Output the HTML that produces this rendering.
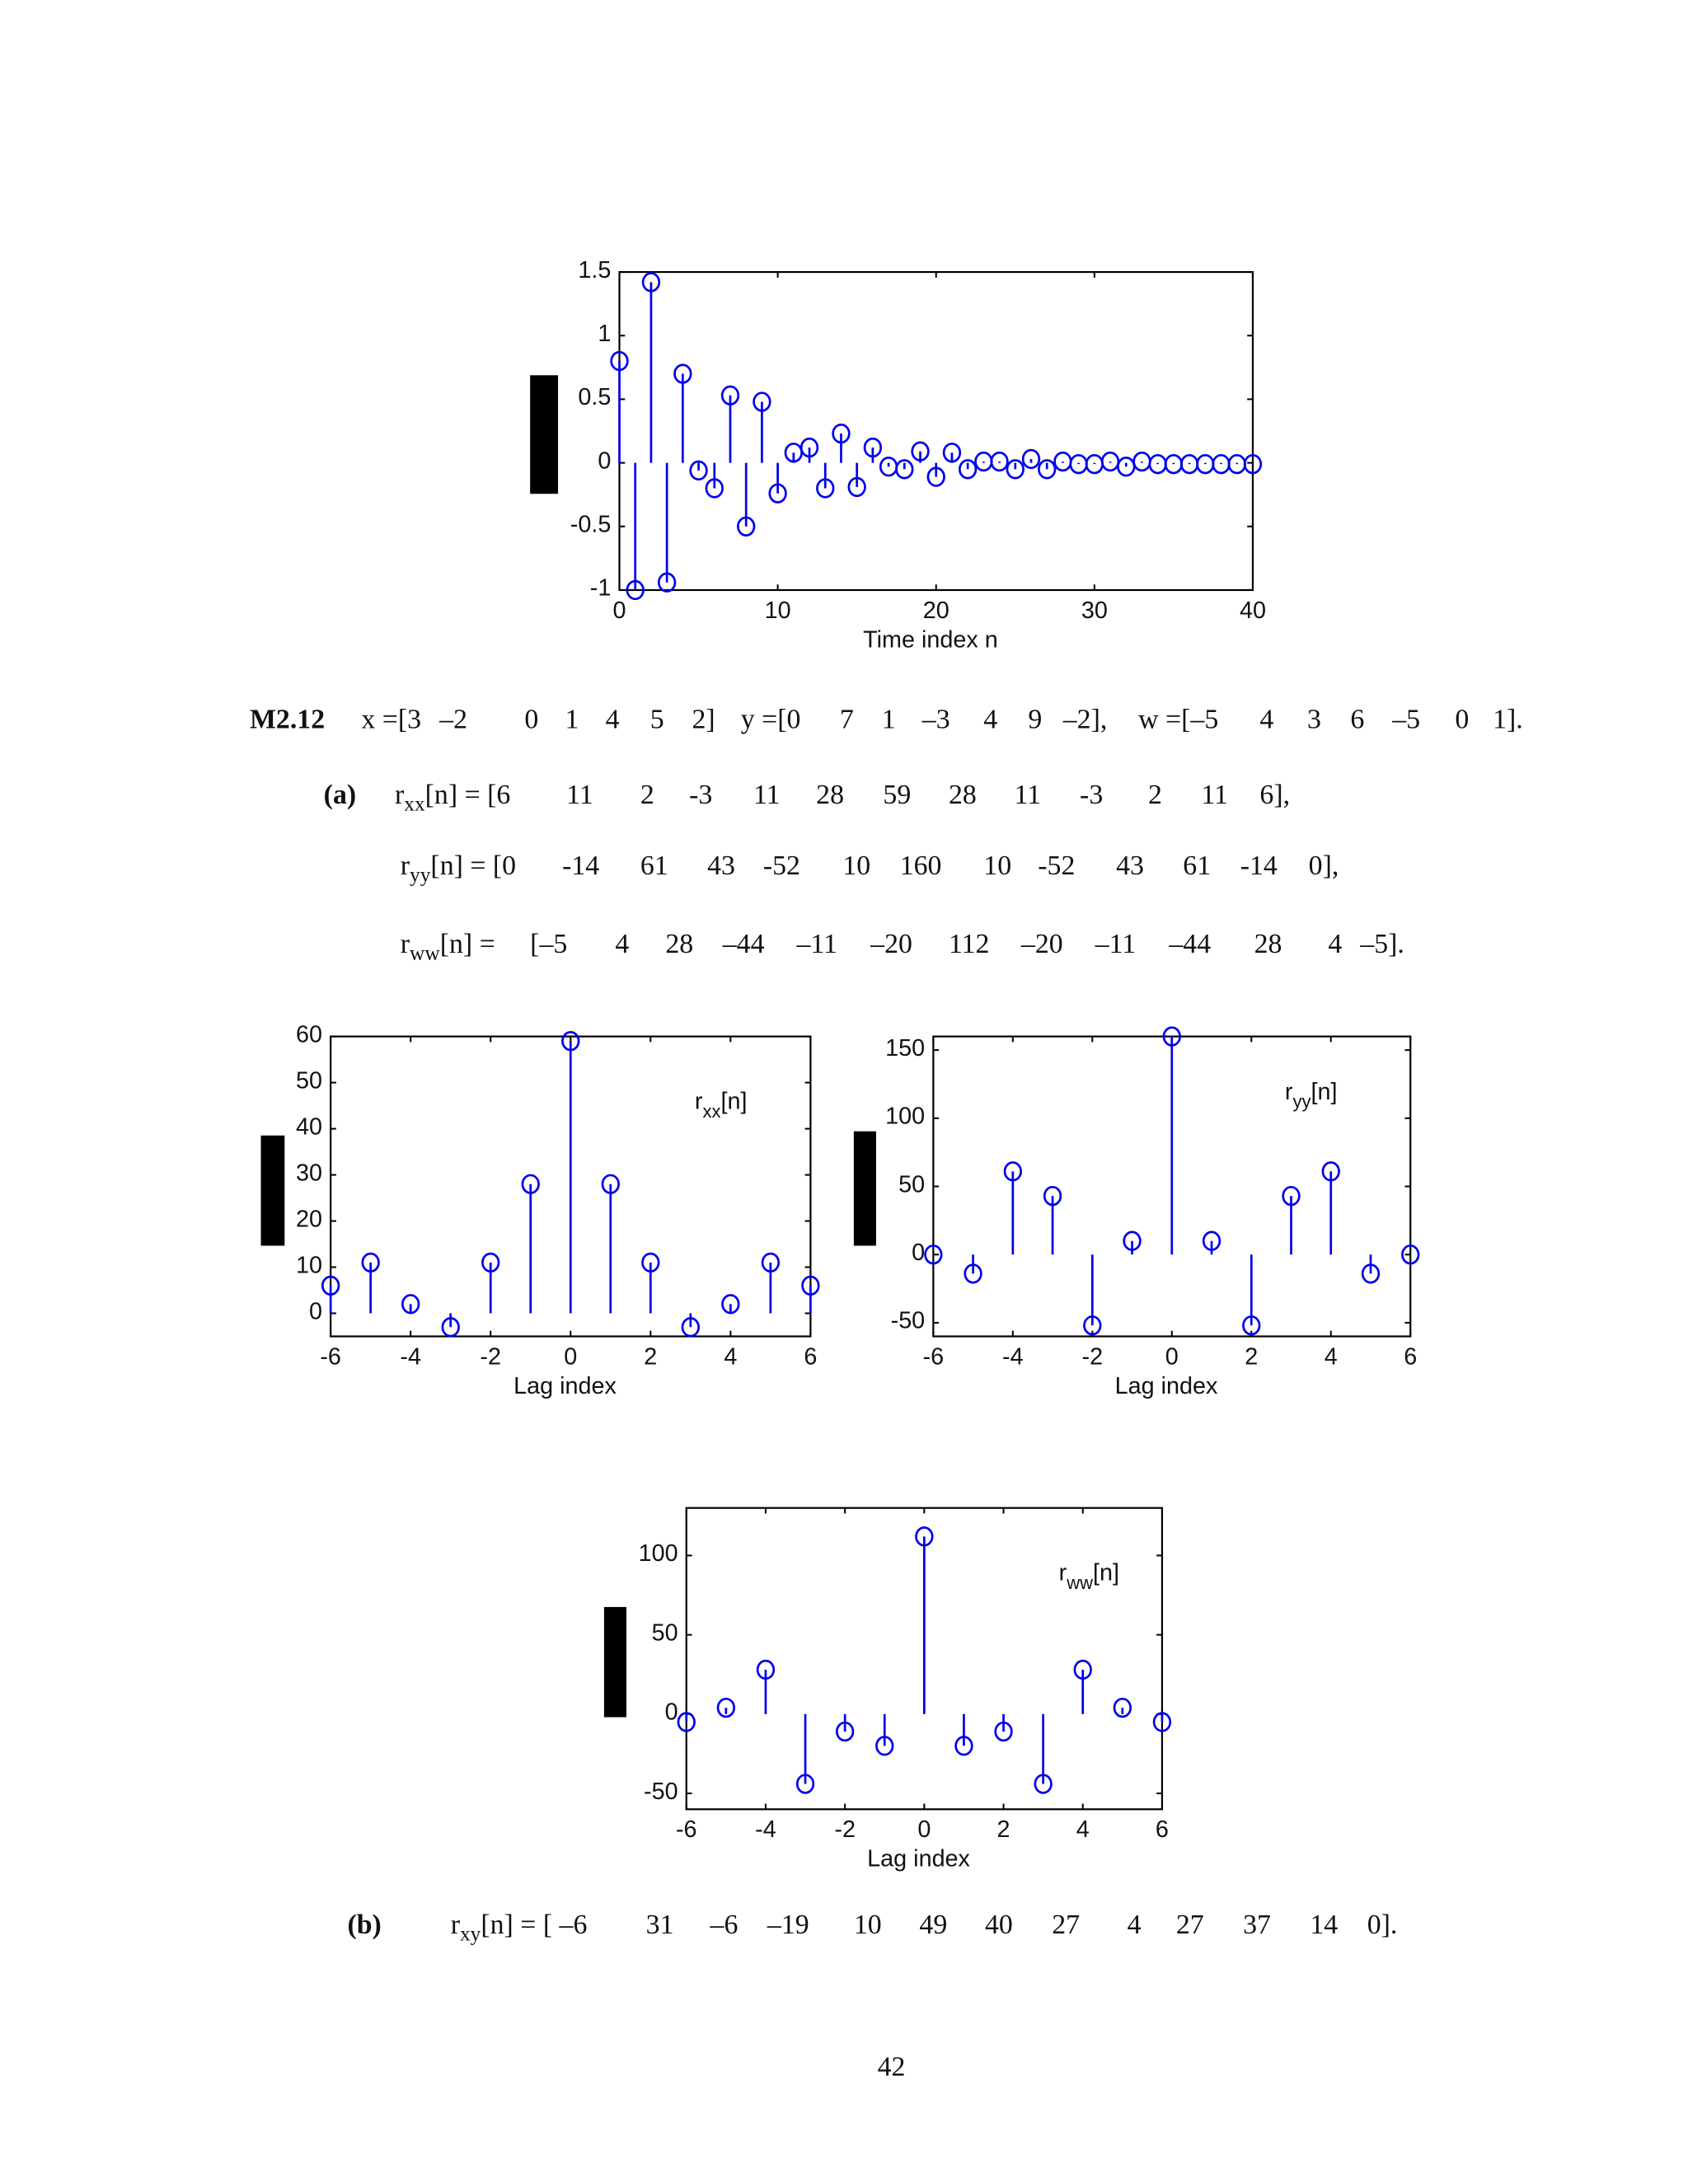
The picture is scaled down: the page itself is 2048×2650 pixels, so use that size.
<!DOCTYPE html>
<html><head><meta charset="utf-8"><style>
html,body{margin:0;padding:0;background:#fff;}
svg{display:block;}
.tx{font-family:"Liberation Serif",serif;font-size:20px;fill:#111;}
.tk{font-family:"Liberation Sans",sans-serif;font-size:17px;fill:#111;}
</style></head><body>
<svg id="root" width="2048" height="2650" viewBox="0 0 2048 2650" xmlns="http://www.w3.org/2000/svg">
<rect width="2048" height="2650" fill="#fff"/>
<g id="g" transform="scale(1.6926)"></g>
</svg>
<script>
// ---- data ----
const topN = [];
for (let i = 0; i <= 40; i++) topN.push(i);
const topVals = [0.8,-1.0,1.42,-0.94,0.7,-0.06,-0.2,0.53,-0.5,0.48,-0.24,0.08,0.12,-0.2,0.23,-0.19,0.12,-0.03,-0.05,0.09,-0.11,0.08,-0.05,0.01,0.01,-0.05,0.03,-0.05,0.01,-0.01,-0.01,0.01,-0.03,0.01,-0.01,-0.01,-0.01,-0.01,-0.01,-0.01,-0.01];
const topXTicks = [0,10,20,30,40];
const topYTicks = [-1,-0.5,0,0.5,1,1.5];
const lags = [-6,-5,-4,-3,-2,-1,0,1,2,3,4,5,6];
const rxx = [6,11,2,-3,11,28,59,28,11,-3,2,11,6];
const ryy = [0,-14,61,43,-52,10,160,10,-52,43,61,-14,0];
const rww = [-5,4,28,-44,-11,-20,112,-20,-11,-44,28,4,-5];
const lagTicks = [-6,-4,-2,0,2,4,6];
const rxxYTicks = [0,10,20,30,40,50,60];
const ryyYTicks = [-50,0,50,100,150];
const rwwYTicks = [-50,0,50,100];

const NS = 'http://www.w3.org/2000/svg';
const G = document.getElementById('g');
function el(tag, attrs, parent){const e=document.createElementNS(NS,tag);for(const k in attrs)e.setAttribute(k,attrs[k]);(parent||G).appendChild(e);return e;}

function chart(name, box, xr, yr, xs, ys, xt, yt, xlabel, ylabRect, legend){
  const g = el('g', {});
  
  
  const X = v => box.l + (v - xr[0]) / (xr[1] - xr[0]) * (box.r - box.l);
  const Y = v => box.b - (v - yr[0]) / (yr[1] - yr[0]) * (box.b - box.t);
  const fr = el('rect', {x:box.l, y:box.t, width:box.r-box.l, height:box.b-box.t, fill:'none', stroke:'#000', 'stroke-width':1.3}, g);
  
  
  xt.forEach(v => {
    const x = X(v);
    el('line', {x1:x, x2:x, y1:box.b, y2:box.b-4, stroke:'#000', 'stroke-width':1.2}, g);
    el('line', {x1:x, x2:x, y1:box.t, y2:box.t+4, stroke:'#000', 'stroke-width':1.2}, g);
    const t = el('text', {x:x, y:box.b+20, 'text-anchor':'middle', class:'tk'}, g);
    t.textContent = String(v);
    
    
  });
  yt.forEach(v => {
    const y = Y(v);
    el('line', {x1:box.l, x2:box.l+4, y1:y, y2:y, stroke:'#000', 'stroke-width':1.2}, g);
    el('line', {x1:box.r, x2:box.r-4, y1:y, y2:y, stroke:'#000', 'stroke-width':1.2}, g);
    const t = el('text', {x:box.l-6, y:y+4, 'text-anchor':'end', class:'tk'}, g);
    t.textContent = String(v);
    
    
  });
  const y0 = Y(0);
  xs.forEach((xv, i) => {
    const x = X(xv), y = Y(ys[i]);
    const s = el('line', {x1:x, x2:x, y1:y0, y2:y, stroke:'#0000ee', 'stroke-width':1.6}, g);
    
    
    const c = el('ellipse', {cx:x, cy:y, rx:5.8, ry:6.4, fill:'none', stroke:'#0000ee', 'stroke-width':1.6}, g);
    
    
  });
  const xl = el('text', {x:(box.l+box.r)/2 - 4, y:box.b+41, 'text-anchor':'middle', class:'tk'}, g);
  xl.textContent = xlabel;
  
  
  const rr = el('rect', ylabRect, g);
  rr.setAttribute('fill', '#000');
  
  
  if (legend){
    const t = el('text', {x:legend.x, y:legend.y, class:'tk'}, g);
    
    
    const a = el('tspan', {}, t); a.textContent = 'r';
    const b = el('tspan', {dy:6, 'font-size':13}, t); b.textContent = legend.sub;
    const c = el('tspan', {dy:-6}, t); c.textContent = '[n]';
  }
}

chart('impulse-response-chart', {l:444,r:898,t:195,b:423}, [0,40], [-1,1.5], topN, topVals, topXTicks, topYTicks, 'Time index  n', {x:380,y:269,width:20,height:85}, null);
chart('rxx-chart', {l:237,r:581,t:743,b:958}, [-6,6], [-5,60], lags, rxx, lagTicks, rxxYTicks, 'Lag index', {x:187,y:814,width:17,height:79}, {x:498,y:795,sub:'xx'});
chart('ryy-chart', {l:669,r:1011,t:743,b:958}, [-6,6], [-60,160], lags, ryy, lagTicks, ryyYTicks, 'Lag index', {x:612,y:811,width:16,height:82}, {x:921,y:788,sub:'yy'});
chart('rww-chart', {l:492,r:833,t:1081,b:1297}, [-6,6], [-60,130], lags, rww, lagTicks, rwwYTicks, 'Lag index', {x:433,y:1152,width:16,height:79}, {x:759,y:1133,sub:'ww'});

// ---- text lines ----
function line(name, y, items){
  const g = el('g', {});
  
  
  items.forEach(it => {
    const t = el('text', {x:it[0], y:y, class:'tx'}, g);
    if (it[2]) t.setAttribute('font-weight', 'bold');
    if (Array.isArray(it[1])){
      const a = el('tspan', {}, t); a.textContent = it[1][0];
      const b = el('tspan', {dy:5, 'font-size':15}, t); b.textContent = it[1][1];
      const c = el('tspan', {dy:-5}, t); c.textContent = it[1][2];
    } else t.textContent = it[1];
  });
}
line('problem-statement', 522, [[179,'M2.12',1],[259,'x =[3'],[315,'–2'],[376,'0'],[405,'1'],[434,'4'],[466,'5'],[496,'2]'],[531,'y =[0'],[602,'7'],[632,'1'],[661,'–3'],[705,'4'],[737,'9'],[762,'–2],'],[816,'w =[–5'],[903,'4'],[937,'3'],[968,'6'],[998,'–5'],[1043,'0'],[1070,'1].']]);
line('rxx-values', 576, [[232,'(a)',1],[283,['r','xx','[n] = [6']],[406,'11'],[459,'2'],[494,'-3'],[540,'11'],[585,'28'],[633,'59'],[680,'28'],[727,'11'],[774,'-3'],[823,'2'],[861,'11'],[903,'6],']]);
line('ryy-values', 627, [[287,['r','yy','[n] = [0']],[403,'-14'],[459,'61'],[507,'43'],[547,'-52'],[604,'10'],[645,'160'],[705,'10'],[744,'-52'],[800,'43'],[848,'61'],[889,'-14'],[938,'0],']]);
line('rww-values', 683, [[287,['r','ww','[n] =']],[380,'[–5'],[441,'4'],[477,'28'],[518,'–44'],[571,'–11'],[624,'–20'],[680,'112'],[732,'–20'],[785,'–11'],[838,'–44'],[899,'28'],[952,'4'],[975,'–5].']]);
line('rxy-values', 1386, [[249,'(b)',1],[323,['r','xy','[n] = [ –6']],[463,'31'],[509,'–6'],[550,'–19'],[612,'10'],[659,'49'],[706,'40'],[754,'27'],[808,'4'],[843,'27'],[891,'37'],[939,'14'],[980,'0].']]);
line('page-number', 1488, [[629,'42']]);
</script>
</body></html>
